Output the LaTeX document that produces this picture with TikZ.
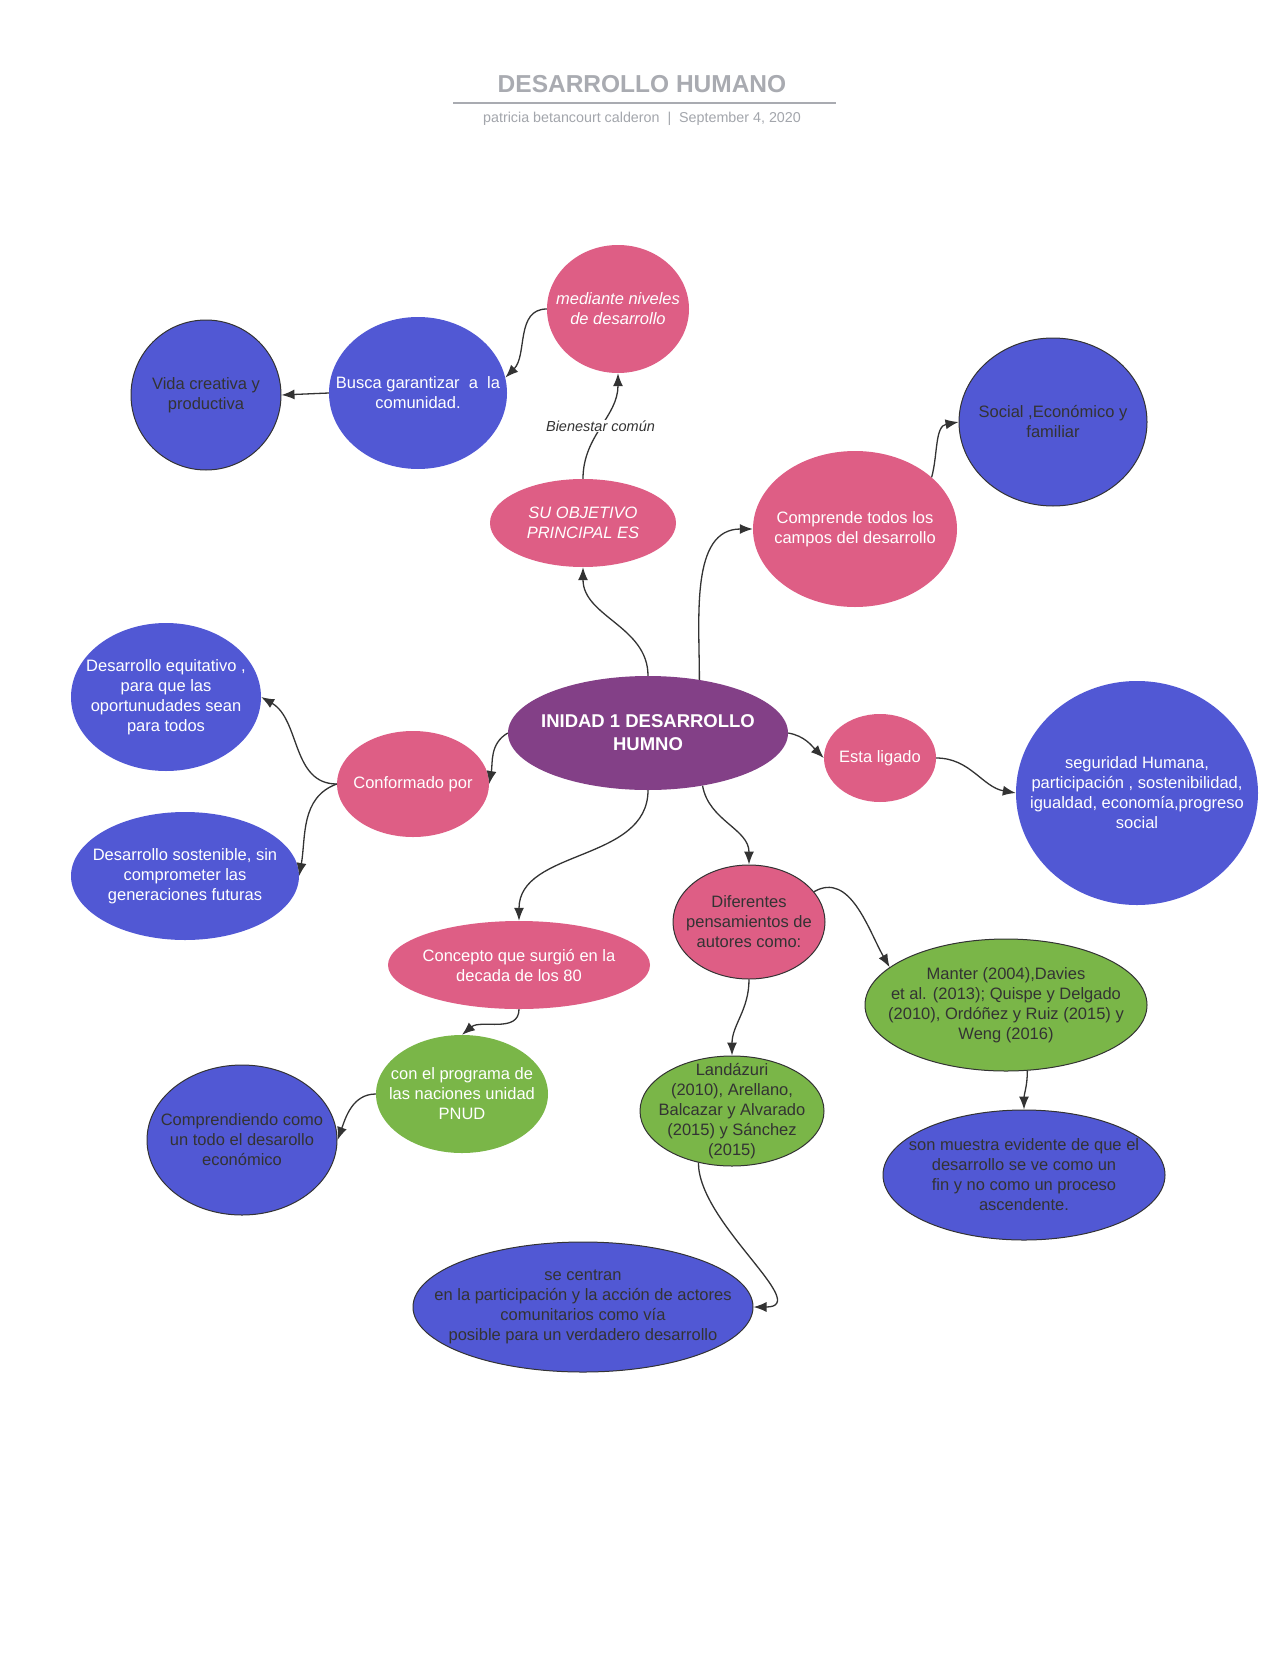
\documentclass[tikz,border=0pt]{standalone}
\usepackage{fontspec}
\setmainfont{Liberation Sans}
\usetikzlibrary{shapes.geometric,arrows.meta}
\definecolor{cpink}{HTML}{DE5E85}
\definecolor{cblue}{HTML}{5158D4}
\definecolor{cpurple}{HTML}{834087}
\definecolor{cgreen}{HTML}{7AB648}
\definecolor{cdark}{HTML}{333333}
\definecolor{cgray}{HTML}{A9ABB1}
\definecolor{cgraylt}{HTML}{A3A6AC}
\tikzset{
  bub/.style={ellipse, inner sep=-90pt, align=center, font=\fontsize{16.5}{20}\selectfont},
  wtxt/.style={text=white},
  dtxt/.style={text=cdark, draw=cdark, line width=1pt},
  sz/.style 2 args={minimum width=#1pt, minimum height=#2pt},
  conn/.style={draw=cdark, line width=1.3pt, -{Latex[length=13pt,width=10pt]}},
}
\begin{document}
\begin{tikzpicture}[x=1pt,y=1pt]
\useasboundingbox (0,0) rectangle (1280,-1656);
\fill[white] (0,0) rectangle (1280,-1656);

% title block
\node[font=\fontsize{24.5}{29}\selectfont\bfseries, text=cgray] (title) at (642,-84) {DESARROLLO HUMANO};
\coordinate (tl) at (453,-103.5);
\coordinate (tr) at (836,-103.5);
\draw[cgray, line width=2pt] (tl) -- (tr);
\node[font=\fontsize{14.3}{17}\selectfont, text=cgraylt] (sub) at (642,-119) {patricia betancourt calderon\ \ |\ \ September 4, 2020};

% nodes
\node[bub, fill=cpink, wtxt, sz={142}{128}, font=\fontsize{16.5}{20}\selectfont\itshape] (med) at (618,-309) {mediante niveles\\de desarrollo};
\node[bub, fill=cblue, wtxt, sz={178}{152}] (busca) at (418,-393) {Busca garantizar\ \ a\ \ la\\comunidad.};
\node[bub, fill=cblue, dtxt, sz={150}{150}] (vida) at (206,-395) {Vida creativa y\\productiva};
\node[bub, fill=cblue, dtxt, sz={188}{168}] (social) at (1053,-422) {Social ,Económico y\\familiar};
\node[bub, fill=cpink, wtxt, sz={186}{88}, font=\fontsize{16.5}{20}\selectfont\itshape] (su) at (583,-523) {SU OBJETIVO\\PRINCIPAL ES};
\node[bub, fill=cpink, wtxt, sz={204}{156}] (comp) at (855,-529) {Comprende todos los\\campos del desarrollo};
\node[bub, fill=cblue, wtxt, sz={190}{148}] (eq) at (166,-697) {Desarrollo equitativo ,\\para que las\\oportunudades sean\\para todos};
\node[bub, fill=cpurple, wtxt, sz={280}{114}, font=\fontsize{18.5}{23}\selectfont\bfseries] (inidad) at (648,-733) {INIDAD 1 DESARROLLO\\HUMNO};
\node[bub, fill=cpink, wtxt, sz={112}{88}] (esta) at (880,-758) {Esta ligado};
\node[bub, fill=cblue, wtxt, sz={242}{224}] (seg) at (1137,-793) {seguridad Humana,\\participación , sostenibilidad,\\igualdad, economía,progreso\\social};
\node[bub, fill=cpink, wtxt, sz={152}{106}] (conf) at (413,-784) {Conformado por};
\node[bub, fill=cblue, wtxt, sz={228}{128}] (sost) at (185,-876) {Desarrollo sostenible, sin\\comprometer las\\generaciones futuras};
\node[bub, fill=cpink, dtxt, sz={152}{114}] (dif) at (749,-922) {Diferentes\\pensamientos de\\autores como:};
\node[bub, fill=cpink, wtxt, sz={262}{88}] (conc) at (519,-965) {Concepto que surgió en la\\decada de los 80};
\node[bub, fill=cgreen, dtxt, sz={282}{132}] (manter) at (1006,-1005) {Manter (2004),Davies\\et al. (2013); Quispe y Delgado\\(2010), Ordóñez y Ruiz (2015) y\\Weng (2016)};
\node[bub, fill=cgreen, wtxt, sz={172}{118}] (prog) at (462,-1094) {con el programa de\\las naciones unidad\\PNUD};
\node[bub, fill=cgreen, dtxt, sz={184}{110}] (land) at (732,-1111) {Landázuri\\(2010), Arellano,\\Balcazar y Alvarado\\(2015) y Sánchez\\(2015)};
\node[bub, fill=cblue, dtxt, sz={190}{150}] (compr) at (242,-1140) {Comprendiendo como\\un todo el desarollo\\económico};
\node[bub, fill=cblue, dtxt, sz={282}{130}] (son) at (1024,-1175) {son muestra evidente de que el\\desarrollo se ve como un\\fin y no como un proceso\\ascendente.};
\node[bub, fill=cblue, dtxt, sz={340}{130}] (cent) at (583,-1307) {se centran\\en la participación y la acción de actores\\comunitarios como vía\\posible para un verdadero desarrollo};

% connectors
\draw[conn] (inidad.north) to[out=90,in=-90] (su.south);
\draw[conn] (inidad.46) to[out=90,in=180] (comp.west);
\draw[conn] (su.north) to[out=90,in=-90] node[pos=0.5, fill=white, inner sep=1pt, text=cdark, font=\fontsize{14.5}{17}\selectfont\itshape] (lbl) {Bienestar común} (med.south);
\draw[conn] (med.west) to[out=180,in=45] (busca.10);
\draw[conn] (busca.west) -- (vida.east);
\draw[conn] (comp.34) to[out=75,in=190] (social.west);
\draw[conn] (inidad.west) to[out=210,in=80] (conf.east);
\draw[conn] (conf.west) to[out=180,in=-30] (eq.east);
\draw[conn] (conf.west) to[out=200,in=80] (sost.east);
\draw[conn] (inidad.east) to[out=-10,in=135] (esta.west);
\draw[conn] (esta.east) to[out=0,in=170] (seg.west);
\draw[conn] (inidad.-44) to[out=-80,in=90] (dif.north);
\draw[conn] (inidad.south) to[out=-90,in=90] (conc.north);
\draw[conn] (dif.25) to[out=30,in=120] (manter.162);
\draw[conn] (dif.south) to[out=-90,in=90] (land.north);
\draw[conn] (manter.-72) to[out=-90,in=90] (son.north);
\draw[conn] (conc.south) to[out=-90,in=40] (prog.north);
\draw[conn] (prog.west) to[out=180,in=70] (compr.east);
\draw[conn] (land.-123) to[out=-90,in=0] (cent.east);
\end{tikzpicture}
\end{document}
